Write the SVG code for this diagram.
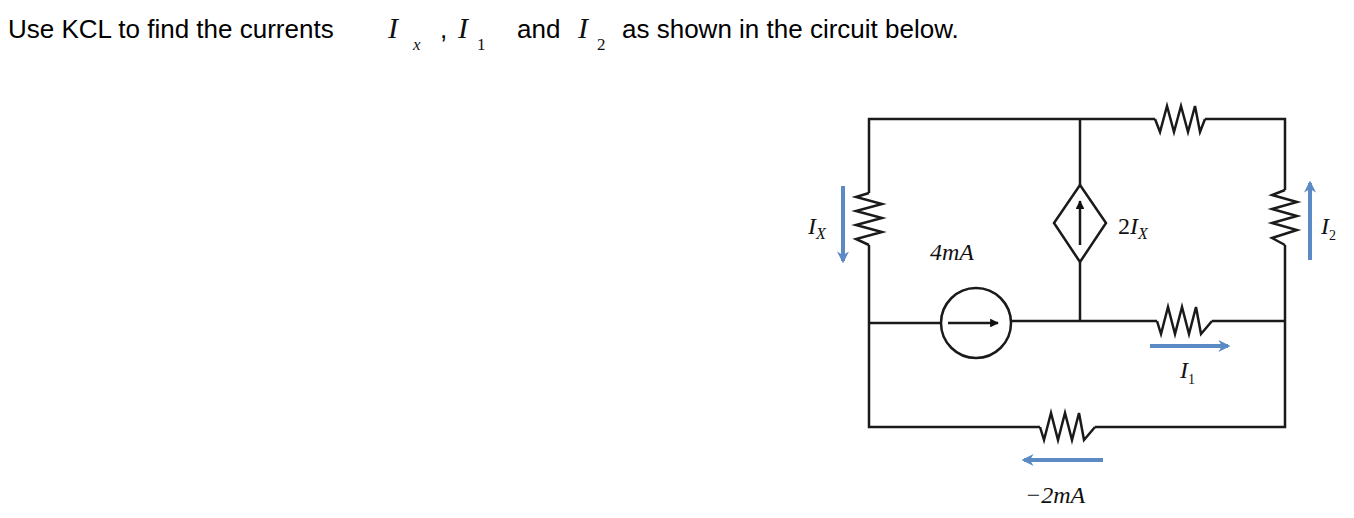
<svg xmlns="http://www.w3.org/2000/svg" width="1354" height="518" viewBox="0 0 1354 518">
<defs>
<style>
.w{stroke:#1a1a1a;stroke-width:2.5;fill:none;stroke-linejoin:miter}
.b{stroke:#5b8ac4;stroke-width:4;fill:none}
.h{font-family:"Liberation Sans",Arial,sans-serif;font-size:26px;fill:#000}
.m{font-family:"Liberation Serif","Times New Roman",serif;font-style:italic;fill:#111}
.n{font-family:"Liberation Serif","Times New Roman",serif;fill:#111}
</style>
<marker id="ba" viewBox="0 0 10 10" refX="8" refY="5" markerWidth="3" markerHeight="3" orient="auto-start-reverse"><path d="M0,0 L10,5 L0,10 L3,5Z" fill="#5b8ac4"/></marker>
<marker id="ka" viewBox="0 0 10 10" refX="9" refY="5" markerWidth="3.5" markerHeight="3.5" orient="auto"><path d="M0,0 L10,5 L0,10Z" fill="#111"/></marker>
</defs>
<g id="title">
<text class="h" x="8" y="38">Use KCL to find the currents</text>
<text class="m" x="388" y="38" font-size="30">I</text><text class="m" x="413" y="50" font-size="17">x</text>
<text class="h" x="440" y="38">,</text>
<text class="m" x="458" y="38" font-size="30">I</text><text class="n" x="477" y="50" font-size="17">1</text>
<text class="h" x="517" y="38">and</text>
<text class="m" x="578" y="38" font-size="30">I</text><text class="n" x="597" y="50" font-size="17">2</text>
<text class="h" x="622" y="38">as shown in the circuit below.</text>
</g>
<g id="connectors">
<path class="w" d="M869,193 V119 H1155 M1205,119 H1285 V190"/>
<path class="w" d="M869,245 V427 H1040 M1095,427 H1285 V245"/>
<path class="w" d="M1080,119 V185 M1080,262 V321"/>
<path class="w" d="M869,323 H941 M1011,321 H1080 H1157 M1212,321 H1285"/>
</g>
<g id="R_top"><path class="w" d="M1155,119 L1160,132 L1167,106 L1174,132 L1181,106 L1188,132 L1195,106 L1200,132 L1205,119"/></g>
<g id="R_left"><path class="w" d="M869,193 L856,197 L882,204 L856,211 L882,218 L856,225 L882,232 L856,239 L869,245"/></g>
<g id="R_right"><path class="w" d="M1285,190 L1272,195 L1297,202 L1272,209 L1297,216 L1272,223 L1297,230 L1272,238 L1285,245"/></g>
<g id="R_mid"><path class="w" d="M1157,321 L1161,334 L1168,307 L1175,334 L1182,307 L1189,334 L1196,307 L1201,334 L1212,321"/></g>
<g id="R_bot"><path class="w" d="M1040,427 L1044,440 L1051,413 L1058,440 L1065,413 L1072,440 L1079,413 L1084,440 L1095,427"/></g>
<g id="src_4mA">
<circle class="w" cx="976" cy="323" r="35"/>
<line class="w" x1="948" y1="323" x2="998" y2="323" stroke-width="3" marker-end="url(#ka)"/>
<text class="m" x="930" y="260" font-size="24">4mA</text>
</g>
<g id="src_dep">
<path class="w" d="M1080,185 L1106,223 L1080,262 L1054,223Z"/>
<line class="w" x1="1080" y1="245" x2="1080" y2="201" stroke-width="3" marker-end="url(#ka)"/>
<text class="n" x="1118" y="234" font-size="24">2<tspan font-style="italic">I</tspan><tspan font-style="italic" font-size="16" dy="5">X</tspan></text>
</g>
<g id="arrows">
<line class="b" x1="843" y1="186" x2="843" y2="261" marker-end="url(#ba)"/>
<line class="b" x1="1310" y1="260" x2="1310" y2="183" marker-end="url(#ba)"/>
<line class="b" x1="1150" y1="346" x2="1228" y2="346" marker-end="url(#ba)"/>
<line class="b" x1="1103" y1="460" x2="1024" y2="460" marker-end="url(#ba)"/>
</g>
<g id="labels">
<text class="m" x="808" y="234" font-size="24">I<tspan font-size="16" dy="5">X</tspan></text>
<text class="m" x="1321" y="234" font-size="24">I<tspan class="n" font-style="normal" font-size="14" dy="6">2</tspan></text>
<text class="m" x="1180" y="378" font-size="24">I<tspan font-style="normal" font-size="14" dy="6">1</tspan></text>
<text class="m" x="1025" y="503" font-size="24">−2mA</text>
</g>
</svg>
